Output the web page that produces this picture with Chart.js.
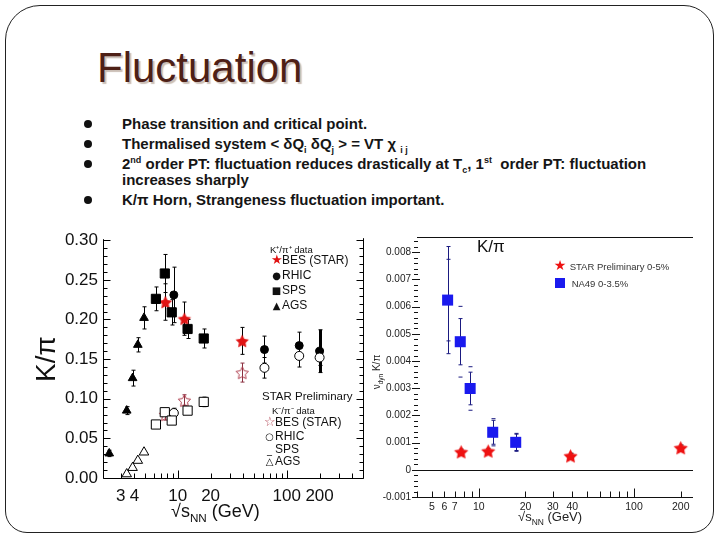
<!DOCTYPE html>
<html>
<head>
<meta charset="utf-8">
<script src="https://cdn.jsdelivr.net/npm/chart.js@4.4.1/dist/chart.umd.min.js"></script>
<style>
  body { margin: 0; background: #fff; font-family: "Liberation Sans", Arial, sans-serif; }
  #slide { position: relative; width: 720px; height: 540px; overflow: hidden; }
  #border { position: absolute; left: 5px; top: 5px; width: 707px; height: 526px; border: 1px solid #222; border-radius: 35px 30px 22px 22px; }
  #title { position: absolute; left: 97px; top: 47px; font-size: 42px; line-height: 42px; color: #4e2016; text-shadow: 2px 2px 1px #cbbfb6; }
  .line { position: absolute; left: 122px; font-size: 15px; font-weight: bold; line-height: 16px; color: #151515; white-space: nowrap; }
  .dot { position: absolute; left: 84px; width: 8px; height: 8px; border-radius: 50%; background: #111; }
  .line sub, .line sup { font-size: 9px; line-height: 0; }
  canvas { position: absolute; }
  .txt { position: absolute; white-space: nowrap; color: #111; line-height: 1; }
  .lg { position: absolute; white-space: nowrap; font-size: 12px; line-height: 12px; color: #111; }
  .mk { display: inline-block; width: 11px; text-align: center; font-family: "DejaVu Sans", sans-serif; font-size: 10px; }
  sub { font-size: 65%; }
</style>
</head>
<body>
<div id="slide">
  <div id="border"></div>
  <div id="title">Fluctuation</div>

  <div class="dot" style="top:120px"></div>
  <div class="line" style="top:116px">Phase transition and critical point.</div>
  <div class="dot" style="top:140px"></div>
  <div class="line" style="top:136px">Thermalised system &lt; δQ<sub>i</sub> δQ<sub>j</sub> &gt; = VT χ <sub>i j</sub></div>
  <div class="dot" style="top:160px"></div>
  <div class="line" style="top:156px">2<sup>nd</sup> order PT: fluctuation reduces drastically at T<sub>c</sub>, 1<sup>st</sup>&nbsp; order PT: fluctuation</div>
  <div class="line" style="top:172px">increases sharply</div>
  <div class="dot" style="top:196px"></div>
  <div class="line" style="top:192px">K/π Horn, Strangeness fluctuation important.</div>

  <canvas id="leftChart" width="340" height="305" style="left:30px;top:225px"></canvas>
  <canvas id="rightChart" width="345" height="305" style="left:370px;top:225px"></canvas>

  <!-- left panel labels -->
  <div class="txt" style="left:171px;top:502px;font-size:18px">√s<sub>NN</sub> (GeV)</div>
  <div class="lg" style="left:270px;top:244px;font-size:9.5px">K⁺/π⁺ data</div>
  <div class="lg" style="left:271px;top:254px"><span class="mk" style="color:#e01010;font-size:13px">★</span>BES (STAR)</div>
  <div class="lg" style="left:271px;top:269px"><span class="mk">●</span>RHIC</div>
  <div class="lg" style="left:271px;top:284px"><span class="mk">■</span>SPS</div>
  <div class="lg" style="left:271px;top:299px"><span class="mk">▲</span>AGS</div>

  <div class="lg" style="left:262px;top:390px;font-size:11.5px">STAR Preliminary</div>
  <div class="lg" style="left:272px;top:405px;font-size:9.5px">K⁻/π⁻ data</div>
  <div class="lg" style="left:264px;top:416px"><span class="mk" style="color:#b04050;font-size:13px">☆</span>BES (STAR)</div>
  <div class="lg" style="left:264px;top:430px"><span class="mk">○</span>RHIC</div>
  <div class="lg" style="left:264px;top:443px"><span class="mk">_</span>SPS</div>
  <div class="lg" style="left:264px;top:455px"><span class="mk">△</span>AGS</div>

  <!-- right panel labels -->
  <div class="txt" style="left:477px;top:238px;font-size:17px">K/π</div>
  <div class="lg" style="left:553px;top:259px;font-size:9.5px;color:#333"><span class="mk" style="color:#ee1111;font-size:14px;width:14px">★</span> STAR Preliminary 0-5%</div>
  <div class="lg" style="left:553px;top:278px;font-size:9.5px;color:#333"><span style="display:inline-block;width:10px;height:10px;background:#1a1aee;margin:0 4px 0 2px;vertical-align:-1px"></span> NA49 0-3.5%</div>
  <div class="txt" style="left:518px;top:510px;font-size:13px;color:#222">√s<sub>NN</sub> (GeV)</div>
  <div class="txt" style="left:378px;top:372px;font-size:10px;color:#222;transform:translate(-50%,-50%) rotate(-90deg)">ν<sub>dyn</sub> K/π</div>
</div>

<script>
// ---- left panel: K/pi ratio vs collision energy ----
const besE = [7.7, 11.5, 39];
const besKplus = [0.222, 0.201, 0.173];
const besKplusErr = [0.023, 0.021, 0.017];
const besKminus = [0.080, 0.098, 0.133];
const besKminusErr = [0.007, 0.007, 0.012];

const rhicE = [9.2, 62.4, 130, 200];
const rhicKplus = [0.231, 0.162, 0.167, 0.160];
const rhicKplusErr = [0.035, 0.017, 0.017, 0.027];
const rhicKminus = [0.082, 0.139, 0.154, 0.152];
const rhicKminusErr = [0.006, 0.013, 0.014, 0.010];

const spsE = [6.3, 7.6, 8.8, 12.3, 17.3];
const spsKplus = [0.226, 0.258, 0.209, 0.188, 0.176];
const spsKplusErr = [0.015, 0.024, 0.016, 0.012, 0.012];
const spsKminus = [0.0675, 0.083, 0.0725, 0.085, 0.096];
const spsKminusErr = [0.004, 0.004, 0.004, 0.004, 0.006];

const agsE = [2.35, 3.4, 3.85, 4.3, 4.9];
const agsKplus = [0.031, 0.085, 0.126, 0.168, 0.202];
const agsKplusErr = [0.004, 0.005, 0.010, 0.009, 0.014];
const agsKminusE = [3.4, 3.85, 4.3, 4.9];
const agsKminus = [0.005, 0.013, 0.022, 0.0325];

const leftXTicks = [3, 4, 10, 20, 100, 200];

// ---- right panel: nu_dyn K/pi ----
const na49E = [6.3, 7.6, 8.8, 12.3, 17.3];
const na49Nu = [0.00624, 0.00471, 0.00299, 0.00138, 0.00101];
const na49Err = [0.00197, 0.00085, 0.0006, 0.00044, 0.00033];
const na49Sys = [0.0015, 0.0013, 0.0008, 0.0005, 0.0003];
const starE = [7.7, 11.5, 39, 200];
const starNu = [0.00066, 0.00069, 0.00051, 0.00081];
const starErr = [0.0001, 0.0001, 0.0001, 0.0001];

const rightXTicks = [5, 6, 7, 10, 20, 30, 40, 100, 200];
const rightYTicks = [-0.001, 0, 0.001, 0.002, 0.003, 0.004, 0.005, 0.006, 0.007, 0.008];

const FONT = "'Liberation Sans', Arial, sans-serif";

function pts(xs, ys) {
    return xs.map((x, i) => ({ x: x, y: ys[i] }));
}

// filled or hollow five point star used as point style
function makeStar(size, fill, stroke) {
    const c = document.createElement('canvas');
    c.width = c.height = size;
    const g = c.getContext('2d');
    const R = size / 2 - 1, r = R * 0.5, cx = size / 2, cy = size / 2 + 0.8;
    g.beginPath();
    for (let k = 0; k < 10; k++) {
        const ang = -Math.PI / 2 + k * Math.PI / 5;
        const rad = k % 2 ? r : R;
        g.lineTo(cx + rad * Math.cos(ang), cy + rad * Math.sin(ang));
    }
    g.closePath();
    if (fill) { g.fillStyle = fill; g.fill(); }
    if (stroke) { g.strokeStyle = stroke; g.lineWidth = 1; g.stroke(); }
    return c;
}

// all 1..9 x 10^k positions in a log range (minor tick marks)
function logMarks(min, max) {
    const out = [];
    for (let e = Math.floor(Math.log10(min)); e <= Math.ceil(Math.log10(max)); e++) {
        for (let m = 1; m < 10; m++) {
            const v = m * Math.pow(10, e);
            if (v >= min && v <= max) out.push({ v: v, major: m === 1 });
        }
    }
    return out;
}

const errorBars = {
    id: 'errorBars',
    beforeDatasetsDraw(chart) {
        const { ctx, scales: { x, y } } = chart;
        chart.data.datasets.forEach(ds => {
            if (!ds.errors) return;
            ctx.save();
            ctx.strokeStyle = ds.errColor || '#000';
            ds.data.forEach((p, j) => {
                const e = ds.errors[j];
                const px = Math.round(x.getPixelForValue(p.x)) + 0.5;
                const top = y.getPixelForValue(p.y + e), bot = y.getPixelForValue(p.y - e);
                ctx.lineWidth = ds.errWidths ? ds.errWidths[j] : 1;
                ctx.beginPath();
                ctx.moveTo(px, top); ctx.lineTo(px, bot);
                ctx.stroke();
                ctx.lineWidth = 1;
                ctx.beginPath();
                ctx.moveTo(px - 2, top); ctx.lineTo(px + 2, top);
                ctx.moveTo(px - 2, bot); ctx.lineTo(px + 2, bot);
                if (ds.sysErrors) {
                    const s1 = y.getPixelForValue(p.y + ds.sysErrors[j]);
                    const s2 = y.getPixelForValue(p.y - ds.sysErrors[j]);
                    ctx.moveTo(px - 2, s1); ctx.lineTo(px + 2, s1);
                    ctx.moveTo(px - 2, s2); ctx.lineTo(px + 2, s2);
                }
                ctx.stroke();
            });
            ctx.restore();
        });
    }
};

const leftFrame = {
    id: 'leftFrame',
    afterDraw(chart) {
        const { ctx, chartArea: a, scales: { x, y } } = chart;
        ctx.save();
        ctx.strokeStyle = '#000';
        ctx.lineWidth = 1;
        ctx.beginPath();
        const L = Math.round(a.left) + 0.5, R = Math.round(a.right) + 0.5, B = Math.round(a.bottom) + 0.5;
        ctx.moveTo(L, a.top - 1); ctx.lineTo(L, B); ctx.lineTo(R, B); ctx.lineTo(R, a.top - 2);
        for (let i = 0; i <= 30; i++) {
            const py = Math.round(y.getPixelForValue(i / 100)) + 0.5;
            const len = i % 5 === 0 ? 7 : 4;
            ctx.moveTo(L, py); ctx.lineTo(L + len, py);
            ctx.moveTo(R, py); ctx.lineTo(R - len, py);
        }
        logMarks(x.min, x.max).forEach(t => {
            const px = Math.round(x.getPixelForValue(t.v)) + 0.5;
            ctx.moveTo(px, B); ctx.lineTo(px, B - (t.major ? 8 : 5));
        });
        ctx.stroke();
        ctx.restore();
    }
};

const rightFrame = {
    id: 'rightFrame',
    afterDraw(chart) {
        const { ctx, chartArea: a, scales: { x, y } } = chart;
        ctx.save();
        ctx.strokeStyle = '#111';
        ctx.lineWidth = 1;
        ctx.beginPath();
        const L = Math.round(a.left), R = Math.round(a.right), B = Math.round(a.bottom) + 0.5, T = Math.round(a.top) + 0.5;
        const Z = Math.round(y.getPixelForValue(0)) + 0.5;
        ctx.moveTo(L, T); ctx.lineTo(R, T);
        ctx.moveTo(L, B); ctx.lineTo(R, B);
        ctx.moveTo(L, Z); ctx.lineTo(R, Z);
        for (let k = -5; k <= 42; k++) {
            const py = Math.round(y.getPixelForValue(k / 5000)) + 0.5;
            if (k % 5 === 0) { ctx.moveTo(L - 5, py); ctx.lineTo(L + 3, py); }
            else { ctx.moveTo(L - 3, py); ctx.lineTo(L + 1, py); }
        }
        logMarks(x.min, x.max).forEach(t => {
            const px = Math.round(x.getPixelForValue(t.v)) + 0.5;
            ctx.moveTo(px, B); ctx.lineTo(px, B - (t.major ? 9 : 6));
        });
        ctx.stroke();
        ctx.restore();
    }
};

const redStar = makeStar(16, '#e01414', null);
const openStar = makeStar(15, null, '#b04050');
const bigRedStar = makeStar(17, '#ee1111', null);

new Chart(document.getElementById('leftChart'), {
    type: 'scatter',
    data: {
        datasets: [
            { label: 'AGS K-', data: pts(agsKminusE, agsKminus), pointStyle: 'triangle', pointRadius: 5.5,
              backgroundColor: '#fff', borderColor: '#000', borderWidth: 1 },
            { label: 'SPS K-', data: pts(spsE, spsKminus), errors: spsKminusErr, pointStyle: 'rect', pointRadius: 6.5,
              backgroundColor: '#fff', borderColor: '#000', borderWidth: 1 },
            { label: 'RHIC K-', data: pts(rhicE, rhicKminus), errors: rhicKminusErr, pointStyle: 'circle', pointRadius: 4.5,
              backgroundColor: '#fff', borderColor: '#000', borderWidth: 1 },
            { label: 'BES K-', data: pts(besE, besKminus), errors: besKminusErr, errColor: '#8a3040', pointStyle: openStar },
            { label: 'AGS K+', data: pts(agsE, agsKplus), errors: agsKplusErr, pointStyle: 'triangle', pointRadius: 5,
              backgroundColor: '#000', borderColor: '#000', borderWidth: 1 },
            { label: 'SPS K+', data: pts(spsE, spsKplus), errors: spsKplusErr, pointStyle: 'rect', pointRadius: 6.5,
              backgroundColor: '#000', borderColor: '#000', borderWidth: 1 },
            { label: 'RHIC K+', data: pts(rhicE, rhicKplus), errors: rhicKplusErr, errWidths: [1, 1, 1, 3],
              pointStyle: 'circle', pointRadius: 4, backgroundColor: '#000', borderColor: '#000' },
            { label: 'BES K+', data: pts(besE, besKplus), errors: besKplusErr, pointStyle: redStar }
        ]
    },
    options: {
        responsive: false,
        animation: false,
        layout: { padding: { top: 10, right: 5, left: 0, bottom: 0 } },
        plugins: { legend: { display: false }, tooltip: { enabled: false } },
        scales: {
            x: {
                type: 'logarithmic', min: 2.06, max: 495,
                grid: { display: false, drawTicks: false }, border: { display: false },
                afterBuildTicks: s => { s.ticks = leftXTicks.map(v => ({ value: v })); },
                afterFit: s => { s.height = 52; },
                ticks: { autoSkip: false, maxRotation: 0, padding: 8, color: '#111',
                         font: { size: 17, family: FONT }, callback: v => String(v) }
            },
            y: {
                min: 0, max: 0.30,
                grid: { display: false, drawTicks: false }, border: { display: false },
                afterBuildTicks: s => { s.ticks = [0, 5, 10, 15, 20, 25, 30].map(v => ({ value: v / 100 })); },
                afterFit: s => { s.width = 73; },
                ticks: { padding: 5, color: '#111', font: { size: 17, family: FONT }, callback: v => v.toFixed(2) },
                title: { display: true, text: 'K/π', color: '#111', padding: 0, font: { size: 28, family: FONT } }
            }
        }
    },
    plugins: [errorBars, leftFrame]
});

new Chart(document.getElementById('rightChart'), {
    type: 'scatter',
    data: {
        datasets: [
            { label: 'NA49 0-3.5%', data: pts(na49E, na49Nu), errors: na49Err, sysErrors: na49Sys, errColor: '#1a1a80',
              pointStyle: 'rect', pointRadius: 7.8, backgroundColor: '#1a1aee', borderColor: '#1a1aee', borderWidth: 0 },
            { label: 'STAR Preliminary 0-5%', data: pts(starE, starNu), errors: starErr, pointStyle: bigRedStar }
        ]
    },
    options: {
        responsive: false,
        animation: false,
        layout: { padding: { top: 6, right: 22, left: 0, bottom: 0 } },
        plugins: { legend: { display: false }, tooltip: { enabled: false } },
        scales: {
            x: {
                type: 'logarithmic', min: 4.0, max: 240,
                grid: { display: false, drawTicks: false }, border: { display: false },
                afterBuildTicks: s => { s.ticks = rightXTicks.map(v => ({ value: v })); },
                afterFit: s => { s.height = 33; },
                ticks: { autoSkip: false, maxRotation: 0, padding: 4, color: '#222',
                         font: { size: 10.5, family: FONT }, callback: v => String(v) }
            },
            y: {
                min: -0.001, max: 0.00856,
                grid: { display: false, drawTicks: false }, border: { display: false },
                afterBuildTicks: s => { s.ticks = rightYTicks.map(v => ({ value: v })); },
                afterFit: s => { s.width = 47; },
                ticks: { padding: 6, color: '#222', font: { size: 10, family: FONT },
                         callback: v => (Math.abs(v) < 1e-9 ? '0' : v.toFixed(3)) }
            }
        }
    },
    plugins: [errorBars, rightFrame]
});
</script>
</body>
</html>
